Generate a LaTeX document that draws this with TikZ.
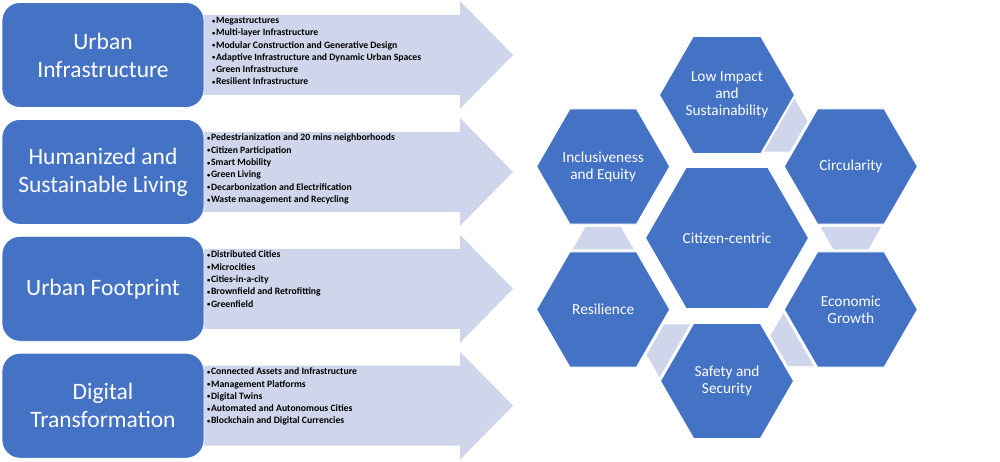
\documentclass[tikz,border=0pt]{standalone}
\usepackage{fontspec}
\setmainfont{Carlito}
\usetikzlibrary{calc, shapes.geometric}
\definecolor{officeblue}{HTML}{4472C4}
\definecolor{arrowgray}{HTML}{CFD5EA}
\newcommand{\dotitem}{{\fontsize{6.5}{6.5}\selectfont\raisebox{0.4pt}{•}}\kern0.6pt}

\begin{document}
\begin{tikzpicture}[x=1pt, y=1pt,
    topic/.style={rectangle, rounded corners=18pt, fill=officeblue, draw=white, line width=0.8pt,
      minimum width=202pt, minimum height=105pt, text=white, align=center,
      font=\fontsize{23.5}{28}\selectfont},
    items/.style={anchor=north west, inner sep=0pt, align=left, font=\bfseries\fontsize{9.7}{12.3}\selectfont},
    hexa/.style={regular polygon, regular polygon sides=6, minimum size=133pt, inner sep=0pt,
      fill=officeblue, draw=white, line width=0.8pt, text=white, align=center,
      font=\fontsize{15.3}{17}\selectfont},
    connector/.style={fill=arrowgray}]
  \useasboundingbox (0,0) rectangle (1000,461);
  % arrows behind the topics
  \foreach \y in {406,289.1,172.2,55.3}
    \fill[arrowgray] (150,\y+40) -- (460,\y+40) -- (460,\y+54) -- (513,\y)
      -- (460,\y-54) -- (460,\y-40) -- (150,\y-40) -- cycle;
  % topics
  \node[topic] (urban) at (103,406) {Urban\\Infrastructure};
  \node[topic] (living) at (103,289.1) {Humanized and\\Sustainable Living};
  \node[topic] (footprint) at (103,172.2) {Urban Footprint};
  \node[topic] (digital) at (103,55.3) {Digital\\Transformation};
  % bullet lists
  \node[items] (urbanlist) at (212,444) {\dotitem Megastructures\\\dotitem Multi-layer Infrastructure\\
    \dotitem Modular Construction and Generative Design\\\dotitem Adaptive Infrastructure and Dynamic Urban Spaces\\
    \dotitem Green Infrastructure\\\dotitem Resilient Infrastructure};
  \node[items] (livinglist) at (207,327.1) {\dotitem Pedestrianization and 20 mins neighborhoods\\
    \dotitem Citizen Participation\\\dotitem Smart Mobility\\\dotitem Green Living\\
    \dotitem Decarbonization and Electrification\\\dotitem Waste management and Recycling};
  \node[items] (footprintlist) at (207,210.2) {\dotitem Distributed Cities\\\dotitem Microcities\\\dotitem Cities-in-a-city\\
    \dotitem Brownfield and Retrofitting\\\dotitem Greenfield};
  \node[items] (digitallist) at (207,93.3) {\dotitem Connected Assets and Infrastructure\\
    \dotitem Management Platforms\\\dotitem Digital Twins\\\dotitem Automated and Autonomous Cities\\
    \dotitem Blockchain and Digital Currencies};
  % hexagon cluster
  \node[hexa, minimum size=163pt] (cit) at (727,223) {Citizen-centric};
  \node[hexa] (low) at ($(cit)+(90:143)$) {Low Impact\\and\\Sustainability};
  \node[hexa] (circ) at ($(cit)+(30:143)$) {Circularity};
  \node[hexa] (econ) at ($(cit)+(-30:143)$) {Economic\\Growth};
  \node[hexa] (safe) at ($(cit)+(-90:143)$) {Safety and\\Security};
  \node[hexa] (resil) at ($(cit)+(-150:143)$) {Resilience};
  \node[hexa] (incl) at ($(cit)+(150:143)$) {Inclusiveness\\and Equity};
  % trapezoids between neighbours
  \foreach \p/\q in {low/circ, circ/econ, econ/safe, safe/resil, resil/incl} {
    \coordinate (m) at ($(\p)!0.5!(\q)$);
    \coordinate (lside) at ($(m)!11.25pt!(\p)$);
    \coordinate (sside) at ($(m)!11.25pt!(\q)$);
    \fill[connector] ($(lside)!30.5pt!90:(m)$) -- ($(lside)!30.5pt!-90:(m)$)
      -- ($(sside)!17.5pt!-90:(\q)$) -- ($(sside)!17.5pt!90:(\q)$) -- cycle;
  }
\end{tikzpicture}
\end{document}
